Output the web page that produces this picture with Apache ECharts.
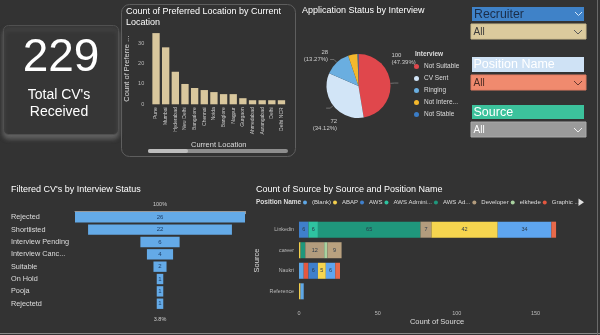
<!DOCTYPE html>
<html><head><meta charset="utf-8">
<script src="https://cdn.jsdelivr.net/npm/echarts@6/dist/echarts.min.js"></script>
<style>html,body{margin:0;padding:0;background:#333;} #c{width:600px;height:335px;}</style>
</head><body><div id="c"></div>
<script>
const FONT = '"Liberation Sans", Arial, sans-serif';

// KPI
const totalCVs = 229;

// Bar: Count of Preferred Location by Current Location
const locationCats = ['Pune','Mumbai','Hyderabad','New Delhi','Bangalore','Chennai','Noida','Banglore','Nagpur','Gurgaon','Ahmedabad','Aurangabad','Delhi','Delhi NCR'];
const locationCounts = [35,28,16,10,8,7,6,5,5,3,2,2,2,2];
const locationTicks = [0,10,20,30];

// Pie: Application Status by Interview
const interviewNames = ['Not Suitable','CV Sent','Ringing','Not Interested','Not Stable'];
const interviewCounts = [100,72,28,10,1];
const interviewColors = ['#e0474c','#d2e5f7','#6aaee0','#f4b82c','#3a7cc6'];

// Funnel: Filtered CV's by Interview Status
const statusCats = ['Rejected','Shortlisted','Interview Pending','Interview Cancelled','Suitable','On Hold','Pooja','Rejectetd'];
const statusCounts = [26,22,6,4,2,1,1,1];

// Stacked: Count of Source by Source and Position Name
const sourceCats = ['Linkedin','career','Naukri','Reference'];
const sourceTicks = [0,50,100,150];
const legendPositions = ['(Blank)','ABAP','AWS','AWS Admini...','AWS Ad...','Developer','elkhede','Graphic ...'];
const posABAP      = [0,1,0,1];
const posBlank     = [0,0,3,2];
const posGraphic   = [0,0,3,0];
const posAWS       = [6,0,6,0];
const posAWSAdmin  = [6,0,0,0];
const posAWSAd     = [65,3,0,0];
const posDeveloper = [7,12,0,0];
const posElkhede   = [0,2,0,0];
const posOtherA    = [42,0,5,0];
const posOtherB    = [34,0,6,0];
const posOtherC    = [0,9,0,0];
const posOtherD    = [3,0,3,0];

const stackDefs = [
  ['ABAP', posABAP, '#f3cf4c'],
  ['(Blank)', posBlank, '#5ea7e6'],
  ['Graphic ...', posGraphic, '#e4573f'],
  ['AWS', posAWS, '#3f7fcb'],
  ['AWS Admini...', posAWSAdmin, '#2ec3a0'],
  ['AWS Ad...', posAWSAd, '#1f977c'],
  ['Developer', posDeveloper, '#b39c7d'],
  ['elkhede', posElkhede, '#a9d2a0'],
  ['Other A', posOtherA, '#f6d54f'],
  ['Other B', posOtherB, '#5ea5ef'],
  ['Other C', posOtherC, '#b9a17f'],
  ['Other D', posOtherD, '#e8694a']
];

// label nudges for the pie (presentation only)
const pieLabelShift = [[-12,-24],[16,17],[3,-4],[0,0],[0,0]];

const chart = echarts.init(document.getElementById('c'), null, {width:600, height:335});
const total = interviewCounts.reduce((a,b)=>a+b,0);
const fMax = Math.max(...statusCounts);
const lastPct = (statusCounts[statusCounts.length-1] / statusCounts[0] * 100).toFixed(1) + '%';

const titleStyle = {color:'#ffffff', fontSize:9, fontWeight:'normal', fontFamily:FONT, lineHeight:11};

const pieData = interviewNames.map((n,i)=>{
  const small = interviewCounts[i]/total < 0.08;
  return {name:n, value:interviewCounts[i], itemStyle:{color:interviewColors[i]},
    label:{show:!small}, labelLine:{show:!small}};
});

const stackSeries = stackDefs.map(([name, vals, color]) => ({
  type:'bar', name:name, xAxisIndex:3, yAxisIndex:2, stack:'src',
  data: vals, barCategoryGap:'22%',
  itemStyle:{color:color},
  label:{show:true, position:'inside', fontSize:5.5, color:'#2b3a4a',
    formatter: p => p.value >= 5 ? String(p.value) : ''}
}));

const option = {
  backgroundColor:'#333333',
  animation:false,
  textStyle:{fontFamily:FONT},
  title:[
    {text:'Count of Preferred Location by Current\nLocation', left:126, top:6, padding:0, textStyle:titleStyle},
    {text:'Application Status by Interview', left:302, top:5, padding:0, textStyle:titleStyle},
    {text:"Filtered CV's by Interview Status", left:11, top:184.5, padding:0, textStyle:titleStyle},
    {text:'Count of Source by Source and Position Name', left:256, top:184.5, padding:0, textStyle:titleStyle}
  ],
  legend:[
    {data:interviewNames, orient:'vertical', left:414, top:63, padding:0, itemWidth:5, itemHeight:5, itemGap:5, icon:'circle',
     selectedMode:false, textStyle:{color:'#dddddd', fontSize:6.5, width:40.5, overflow:'truncate', ellipsis:'...'}},
    {data:legendPositions, left:303, top:199.5, padding:0, itemWidth:4, itemHeight:4, itemGap:2, icon:'circle',
     selectedMode:false, textStyle:{color:'#dddddd', fontSize:6}}
  ],
  grid:[
    {left:151.2, right:313.7, top:33.1, bottom:230.7, outerBoundsMode:'none'},
    {left:75, right:355, top:211.1, bottom:25.1, outerBoundsMode:'none'},
    {left:299, right:25, top:219.4, bottom:33.4, outerBoundsMode:'none'}
  ],
  xAxis:[
    {gridIndex:0, type:'category', data:locationCats, axisLine:{show:false}, axisTick:{show:false},
     axisLabel:{rotate:90, fontSize:5, color:'#cccccc', margin:3, interval:0},
     name:'Current Location', nameLocation:'middle', nameGap:37, nameTextStyle:{color:'#dddddd', fontSize:7.5}},
    {gridIndex:1, type:'value', position:'top', min:0, max:fMax, interval:fMax,
     axisLine:{show:true, lineStyle:{color:'#999999'}}, axisTick:{show:true, inside:true, length:3, lineStyle:{color:'#999999'}},
     axisLabel:{show:false}, splitLine:{show:false},
     name:'100%', nameLocation:'middle', nameGap:4, nameTextStyle:{color:'#cccccc', fontSize:5.5}},
    {gridIndex:1, type:'value', position:'bottom', min:0, max:fMax,
     axisLine:{show:false}, axisTick:{show:false}, axisLabel:{show:false}, splitLine:{show:false},
     name:lastPct, nameLocation:'middle', nameGap:7, nameTextStyle:{color:'#cccccc', fontSize:5.5}},
    {gridIndex:2, type:'value', min:sourceTicks[0], max:175, interval:sourceTicks[1]-sourceTicks[0],
     axisLine:{show:false}, axisTick:{show:false}, splitLine:{show:false},
     axisLabel:{fontSize:5.5, color:'#bbbbbb', margin:9, showMaxLabel:false},
     name:'Count of Source', nameLocation:'middle', nameGap:15, nameTextStyle:{color:'#dddddd', fontSize:7.5}}
  ],
  yAxis:[
    {gridIndex:0, type:'value', min:locationTicks[0], max:35, interval:locationTicks[1]-locationTicks[0],
     splitLine:{show:false}, axisLine:{show:false}, axisTick:{show:false},
     axisLabel:{fontSize:5.5, color:'#bbbbbb', margin:7, showMaxLabel:false},
     name:'Count of Preferred Location', nameLocation:'middle', nameGap:20, nameRotate:90,
     nameTruncate:{maxWidth:68, ellipsis:' ...'}, nameTextStyle:{color:'#dddddd', fontSize:7.5}},
    {gridIndex:1, type:'category', data:statusCats, inverse:true, axisLine:{show:false}, axisTick:{show:false},
     axisLabel:{align:'left', margin:64, fontSize:7.3, color:'#dddddd', width:60, overflow:'truncate', ellipsis:'...'}},
    {gridIndex:2, type:'category', data:sourceCats, inverse:true, axisLine:{show:false}, axisTick:{show:false},
     axisLabel:{fontSize:5.3, color:'#bbbbbb', margin:5},
     name:'Source', nameLocation:'middle', nameGap:38, nameRotate:90, nameTextStyle:{color:'#dddddd', fontSize:7.5}}
  ],
  series:[
    {type:'bar', name:'Preferred', xAxisIndex:0, yAxisIndex:0, data:locationCounts, barCategoryGap:'24%',
     itemStyle:{color:'#d9c79d'}},
    {type:'pie', name:'Interview', center:[358.5,86], radius:32, startAngle:90, data:pieData,
     label:{color:'#cccccc', fontSize:6, lineHeight:7, formatter:'{c}\n({d}%)'},
     labelLine:{length:4, length2:4, lineStyle:{color:'#888888', width:0.7}},
     labelLayout: p => ({dx: pieLabelShift[p.dataIndex][0], dy: pieLabelShift[p.dataIndex][1]})},
    {type:'bar', name:'offset', xAxisIndex:1, yAxisIndex:1, stack:'f', silent:true,
     data:statusCounts.map(v=>(fMax-v)/2), barCategoryGap:'16%', itemStyle:{color:'rgba(0,0,0,0)'}},
    {type:'bar', name:'status', xAxisIndex:1, yAxisIndex:1, stack:'f', data:statusCounts, barCategoryGap:'16%',
     itemStyle:{color:'#64aae7'},
     label:{show:true, position:'inside', fontSize:6, color:'#1d3e66'}},
    ...stackSeries
  ],
  graphic:[
    {type:'line', shape:{x1:0, y1:333.5, x2:600, y2:333.5}, style:{stroke:'#8a8a8a', lineWidth:1}},
    {type:'line', shape:{x1:597.5, y1:0, x2:597.5, y2:335}, style:{stroke:'#6a6a6a', lineWidth:1}},
    {type:'rect', shape:{x:3.5, y:25.5, width:115, height:109, r:5},
     style:{fill:'#363636', stroke:'#505050', lineWidth:1, shadowBlur:4, shadowOffsetY:4, shadowColor:'rgba(110,110,110,0.8)'}},
    {type:'text', x:61, y:58, style:{text:String(totalCVs), fill:'#ffffff', fontSize:46, fontFamily:FONT, align:'center', verticalAlign:'middle'}},
    {type:'text', x:59, y:95.5, style:{text:"Total CV's", fill:'#ffffff', fontSize:14, fontFamily:FONT, align:'center', verticalAlign:'middle'}},
    {type:'text', x:59, y:112.5, style:{text:'Received', fill:'#ffffff', fontSize:14, fontFamily:FONT, align:'center', verticalAlign:'middle'}},
    {type:'rect', shape:{x:121.5, y:4.5, width:174, height:152, r:8}, style:{fill:null, stroke:'#5e5e5e', lineWidth:1}},
    {type:'rect', shape:{x:148, y:149, width:140, height:4, r:2}, style:{fill:'#8e8e8e'}},
    {type:'rect', shape:{x:148, y:149, width:40, height:4, r:2}, style:{fill:'#bdbdbd'}},
    {type:'text', x:415, y:54, style:{text:'Interview', fill:'#dddddd', fontSize:6.5, fontWeight:'bold', fontFamily:FONT, verticalAlign:'middle'}},
    {type:'text', x:256, y:202.3, style:{text:'Position Name', fill:'#dddddd', fontSize:6.5, fontWeight:'bold', fontFamily:FONT, verticalAlign:'middle'}},
    {type:'polygon', shape:{points:[[578.5,198.5],[584,202.3],[578.5,206]]}, style:{fill:'#e0e0e0'}},
    {type:'rect', shape:{x:472, y:7, width:112, height:14}, style:{fill:'#3f82c8'}},
    {type:'text', x:474, y:14.5, style:{text:'Recruiter', fill:'#1b2d48', fontSize:12.3, fontFamily:FONT, verticalAlign:'middle'}},
    {type:'polyline', shape:{points:[[575,12],[578.5,15.5],[582,12]]}, style:{stroke:'#d5e6f7', lineWidth:1, fill:null}},
    {type:'rect', shape:{x:471, y:24, width:115, height:15}, style:{fill:'#dbca9d', stroke:'#cdbd90', lineWidth:1}},
    {type:'text', x:473.5, y:32, style:{text:'All', fill:'#3a3a3a', fontSize:10, fontFamily:FONT, verticalAlign:'middle'}},
    {type:'polyline', shape:{points:[[574,30],[578,34],[582,30]]}, style:{stroke:'#5a5a5a', lineWidth:1, fill:null}},
    {type:'rect', shape:{x:472, y:57, width:112, height:15}, style:{fill:'#cfe2f5'}},
    {type:'text', x:473.5, y:65, style:{text:'Position Name', fill:'#ffffff', fontSize:12.5, fontFamily:FONT, verticalAlign:'middle'}},
    {type:'rect', shape:{x:471, y:75, width:115, height:15}, style:{fill:'#f08a6e', stroke:'#e07c62', lineWidth:1}},
    {type:'text', x:473.5, y:83, style:{text:'All', fill:'#4a2a22', fontSize:10, fontFamily:FONT, verticalAlign:'middle'}},
    {type:'polyline', shape:{points:[[574,81],[578,85],[582,81]]}, style:{stroke:'#6a3a30', lineWidth:1, fill:null}},
    {type:'rect', shape:{x:472, y:105, width:112, height:14}, style:{fill:'#3cc29c'}},
    {type:'text', x:473.5, y:112.5, style:{text:'Source', fill:'#ffffff', fontSize:12.5, fontFamily:FONT, verticalAlign:'middle'}},
    {type:'rect', shape:{x:471, y:122, width:115, height:15}, style:{fill:'#9b9b9b', stroke:'#aaaaaa', lineWidth:1}},
    {type:'text', x:473.5, y:130, style:{text:'All', fill:'#ffffff', fontSize:10, fontFamily:FONT, verticalAlign:'middle'}},
    {type:'polyline', shape:{points:[[574,128],[578,132],[582,128]]}, style:{stroke:'#f0f0f0', lineWidth:1, fill:null}}
  ]
};
chart.setOption(option);
</script>
</body></html>
